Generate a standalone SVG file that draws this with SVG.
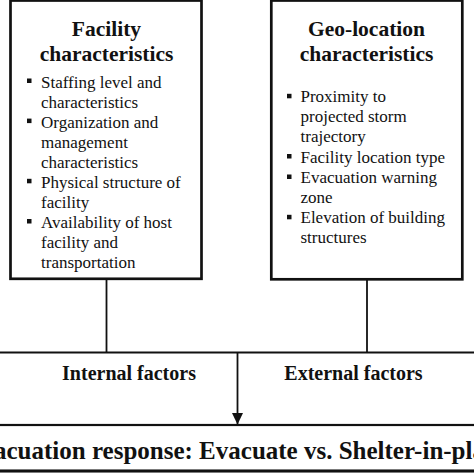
<svg xmlns="http://www.w3.org/2000/svg" width="474" height="474" viewBox="0 0 474 474">
<style>
.box{fill:#fff;stroke:#111;stroke-width:2.7}
.line{fill:none;stroke:#111;stroke-width:1.8}
.title{font-family:"Liberation Serif","Times New Roman",serif;font-weight:bold;font-size:21.5px;fill:#111;text-anchor:middle}
.item{font-family:"Liberation Serif","Times New Roman",serif;font-size:17px;fill:#111}
.factor{font-family:"Liberation Serif","Times New Roman",serif;font-weight:bold;font-size:20px;fill:#111;text-anchor:middle}
.resp{font-family:"Liberation Serif","Times New Roman",serif;font-weight:bold;font-size:25px;fill:#111;text-anchor:middle}
.bul{fill:#111}
</style>
<defs>
<marker id="arrow" markerWidth="12" markerHeight="12" refX="11" refY="6" orient="auto" markerUnits="userSpaceOnUse">
<path d="M0,0.5 L11.5,6 L0,11.5 Z" fill="#111"/>
</marker>
</defs>
<rect width="474" height="474" fill="#fff"/>
<g id="connectors">
<line class="line" x1="106.5" y1="280" x2="106.5" y2="352.5"/>
<line class="line" x1="367" y1="280" x2="367" y2="352.5"/>
<line class="line" x1="-5" y1="352.5" x2="480" y2="352.5"/>
<line class="line" x1="237.5" y1="352.5" x2="237.5" y2="424" marker-end="url(#arrow)"/>
</g>
<g id="facility">
<rect class="box" x="10.5" y="0.5" width="191" height="278.3"/>
<text class="title" x="106.5" y="36">Facility</text>
<text class="title" x="106.5" y="61">characteristics</text>
<rect class="bul" x="27" y="78.5" width="4.5" height="4.5"/>
<rect class="bul" x="27" y="118.6" width="4.5" height="4.5"/>
<rect class="bul" x="27" y="178.8" width="4.5" height="4.5"/>
<rect class="bul" x="27" y="219" width="4.5" height="4.5"/>
<text class="item" x="41">
<tspan x="41" y="87.5">Staffing level and</tspan>
<tspan x="41" y="107.5">characteristics</tspan>
<tspan x="41" y="127.6">Organization and</tspan>
<tspan x="41" y="147.7">management</tspan>
<tspan x="41" y="167.7">characteristics</tspan>
<tspan x="41" y="187.8">Physical structure of</tspan>
<tspan x="41" y="207.9">facility</tspan>
<tspan x="41" y="228">Availability of host</tspan>
<tspan x="41" y="248">facility and</tspan>
<tspan x="41" y="268">transportation</tspan>
</text>
</g>
<g id="geolocation">
<rect class="box" x="271.3" y="0.5" width="191" height="278.8"/>
<text class="title" x="366.5" y="36">Geo-location</text>
<text class="title" x="366.5" y="61">characteristics</text>
<rect class="bul" x="287" y="93.8" width="4.5" height="4.5"/>
<rect class="bul" x="287" y="154" width="4.5" height="4.5"/>
<rect class="bul" x="287" y="174.5" width="4.5" height="4.5"/>
<rect class="bul" x="287" y="214.8" width="4.5" height="4.5"/>
<text class="item">
<tspan x="300.5" y="102.3">Proximity to</tspan>
<tspan x="300.5" y="122.3">projected storm</tspan>
<tspan x="300.5" y="142.4">trajectory</tspan>
<tspan x="300.5" y="162.5">Facility location type</tspan>
<tspan x="300.5" y="183">Evacuation warning</tspan>
<tspan x="300.5" y="203">zone</tspan>
<tspan x="300.5" y="223.3">Elevation of building</tspan>
<tspan x="300.5" y="243.3">structures</tspan>
</text>
</g>
<g id="factors">
<text class="factor" x="129" y="380">Internal factors</text>
<text class="factor" x="353.5" y="380">External factors</text>
</g>
<g id="response">
<rect x="-10" y="425" width="494" height="46" fill="#fff" stroke="#111" stroke-width="2.2"/>
<line x1="-10" y1="471" x2="484" y2="471" stroke="#111" stroke-width="3"/>
<text class="resp" x="236" y="458.5">Evacuation response: Evacuate vs. Shelter-in-place</text>
</g>
</svg>
